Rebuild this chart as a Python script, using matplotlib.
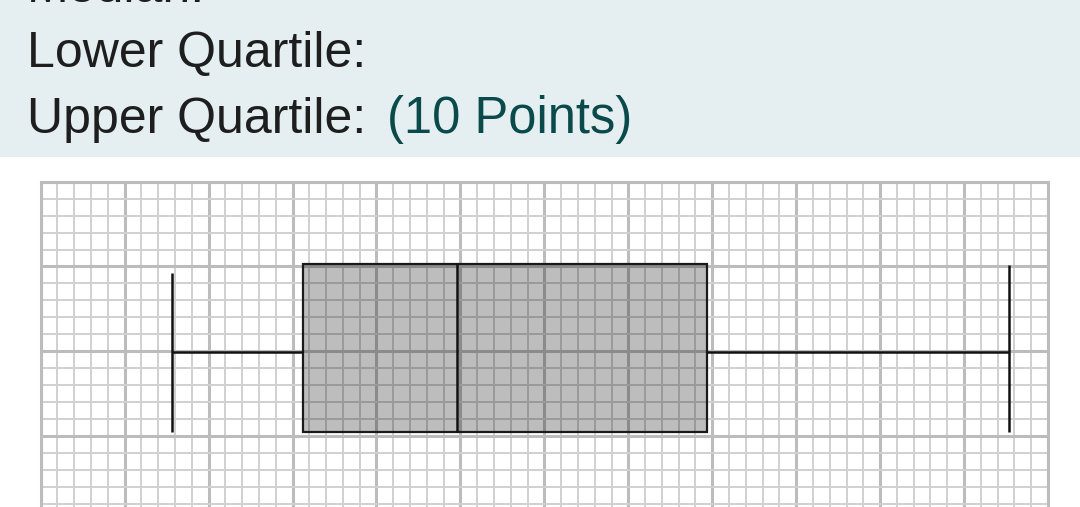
import matplotlib
matplotlib.use("Agg")
import matplotlib.pyplot as plt
from matplotlib.patches import Rectangle
import numpy as np

# ---- data (in grid units: one small square = 1) ----
labels = ["Median:", "Lower Quartile:", "Upper Quartile:"]
points_label = "(10 Points)"
whisker_low = 7.8
q1 = 15.6
median = 24.8
q3 = 39.7
whisker_high = 57.7
grid_cols = 60
grid_rows = 24

# vertical placement of the box plot (grid rows from top)
box_top, box_bottom = 4.87, 14.78
whisker_y = 10.03
cap_low_span = (5.37, 14.75)
cap_high_span = (4.91, 14.75)

W, H = 1080, 507
fig = plt.figure(figsize=(W / 100, H / 100), dpi=100)
fig.patch.set_facecolor("white")

# header panel
bg = fig.add_axes([0, 0, 1, 1], zorder=0)
bg.set_xlim(0, W)
bg.set_ylim(H, 0)
bg.axis("off")
bg.add_patch(Rectangle((0, 0), W, 157, facecolor="#e5eff2", edgecolor="none"))

font = "Liberation Sans"
baselines = [2, 67, 133]
for lab, yb in zip(labels, baselines):
    bg.text(27, yb, lab, fontsize=36, family=font, color="#1e1e1e",
            va="baseline", ha="left")
bg.text(387, 133, points_label, fontsize=36.5, family=font, color="#0a4a4a",
        va="baseline", ha="left")

# grid + box plot
x0, x1 = 40.7, 1048
top = 181.7
cell_x = (x1 - x0) / grid_cols
cell_y = 16.95
ax_h = grid_rows * cell_y
ax = fig.add_axes([x0 / W, 1 - (top + ax_h) / H, (x1 - x0) / W, ax_h / H], zorder=1)
ax.set_xlim(0, grid_cols)
ax.set_ylim(grid_rows, 0)
ax.set_xticks(np.arange(0, grid_cols + 1, 5))
ax.set_xticks(np.arange(0, grid_cols + 1, 1), minor=True)
ax.set_yticks(np.arange(0, grid_rows + 1, 5))
ax.set_yticks(np.arange(0, grid_rows + 1, 1), minor=True)
ax.grid(which="minor", color="#d0d0d0", linewidth=1.4)
ax.grid(which="major", color="#bcbcbc", linewidth=2.2)
ax.tick_params(which="both", length=0, labelbottom=False, labelleft=False)
for s in ax.spines.values():
    s.set_color("#bcbcbc")
    s.set_linewidth(2.2)
ax.spines["bottom"].set_visible(False)
ax.set_axisbelow(True)
ax.set_facecolor("white")

line_c = "#111111"
ax.add_patch(Rectangle((q1, box_top), q3 - q1, box_bottom - box_top,
                       facecolor=(0, 0, 0, 0.26), edgecolor="#1a1a1a",
                       linewidth=1.6, zorder=3))
ax.vlines(median, box_top, box_bottom, color=line_c, linewidth=1.8, zorder=4)
ax.hlines(whisker_y, whisker_low, q1, color=line_c, linewidth=1.8, zorder=4)
ax.hlines(whisker_y, q3, whisker_high, color=line_c, linewidth=1.8, zorder=4)
ax.vlines(whisker_low, *cap_low_span, color=line_c, linewidth=1.8, zorder=4)
ax.vlines(whisker_high, *cap_high_span, color=line_c, linewidth=1.8, zorder=4)

fig.savefig("out.png", dpi=100)
